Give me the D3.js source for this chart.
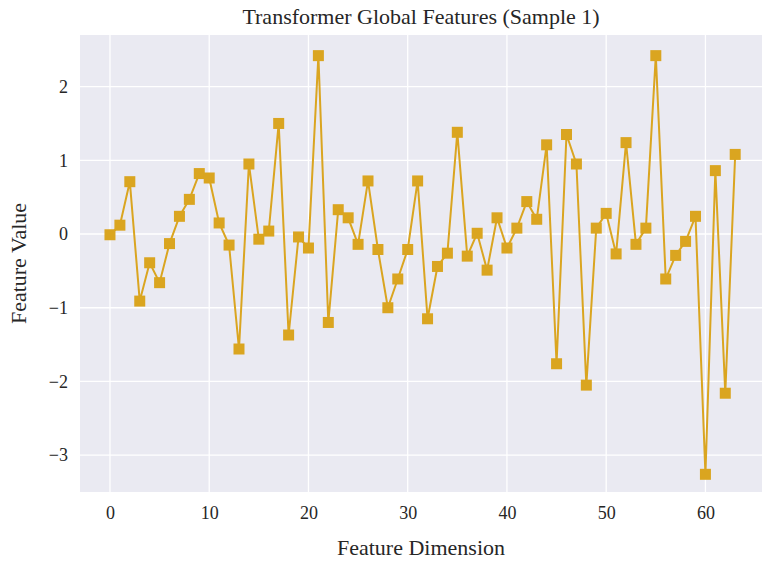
<!DOCTYPE html>
<html>
<head>
<meta charset="utf-8">
<script src="https://cdn.jsdelivr.net/npm/d3@7"></script>
<style>
  body { margin: 0; background: #fff; }
  text { font-family: "Liberation Serif", "Times New Roman", serif; fill: #262626; }
</style>
</head>
<body>
<div id="chart"></div>
<script>
// Feature values, index 0..63
var values = [-0.01, 0.12, 0.71, -0.91, -0.39, -0.66, -0.13, 0.24, 0.47, 0.82,
  0.76, 0.15, -0.15, -1.56, 0.95, -0.07, 0.04, 1.50, -1.37, -0.04,
  -0.19, 2.42, -1.20, 0.33, 0.22, -0.14, 0.72, -0.21, -1.00, -0.61,
  -0.21, 0.72, -1.15, -0.44, -0.26, 1.38, -0.30, 0.01, -0.49, 0.22,
  -0.19, 0.08, 0.44, 0.20, 1.21, -1.76, 1.35, 0.95, -2.05, 0.08,
  0.28, -0.27, 1.24, -0.14, 0.08, 2.42, -0.61, -0.29, -0.10, 0.24,
  -3.26, 0.86, -2.16, 1.08];
var xTicks = [0, 10, 20, 30, 40, 50, 60];
var yTicks = [-3, -2, -1, 0, 1, 2];

var width = 776, height = 565;
var margin = { left: 80, right: 14, top: 35, bottom: 73 };

var svg = d3.select('#chart').append('svg')
    .attr('width', width)
    .attr('height', height);

var x = d3.scaleLinear().domain([-3.02, 65.7]).range([margin.left, width - margin.right]);
var y = d3.scaleLinear().domain([-3.5, 2.7]).range([height - margin.bottom, margin.top]);

// background + grid
svg.append('rect')
  .attr('x', margin.left).attr('y', margin.top)
  .attr('width', width - margin.left - margin.right)
  .attr('height', height - margin.top - margin.bottom)
  .attr('fill', '#eaeaf2');

svg.append('g').selectAll('line').data(xTicks).join('line')
  .attr('x1', x).attr('x2', x)
  .attr('y1', margin.top).attr('y2', height - margin.bottom)
  .attr('stroke', '#fff').attr('stroke-width', 1.3);

svg.append('g').selectAll('line').data(yTicks).join('line')
  .attr('y1', y).attr('y2', y)
  .attr('x1', margin.left).attr('x2', width - margin.right)
  .attr('stroke', '#fff').attr('stroke-width', 1.3);

// axes (tick labels only)
var xAxis = svg.append('g')
  .attr('transform', 'translate(0,' + (height - margin.bottom) + ')')
  .call(d3.axisBottom(x).tickValues(xTicks).tickSize(0).tickPadding(14));
var yAxis = svg.append('g')
  .attr('transform', 'translate(' + margin.left + ',0)')
  .call(d3.axisLeft(y).tickValues(yTicks).tickSize(0).tickPadding(12)
    .tickFormat(function(d) { return d < 0 ? '\u2212' + Math.abs(d) : d; }));
[xAxis, yAxis].forEach(function(a) {
  a.attr('font-family', 'Liberation Serif').attr('font-size', 18);
  a.select('.domain').remove();
  a.selectAll('text').attr('fill', '#262626');
});

// line + markers
var line = d3.line().x(function(d, i) { return x(i); }).y(function(d) { return y(d); });
svg.append('path').datum(values)
  .attr('d', line).attr('fill', 'none')
  .attr('stroke', '#daa520').attr('stroke-width', 2);

var s = 11;
svg.append('g').selectAll('rect').data(values).join('rect')
  .attr('x', function(d, i) { return x(i) - s / 2; })
  .attr('y', function(d) { return y(d) - s / 2; })
  .attr('width', s).attr('height', s)
  .attr('fill', '#daa520');

// labels
svg.append('text').attr('x', (margin.left + width - margin.right) / 2).attr('y', 24)
  .attr('text-anchor', 'middle').style('font-size', '22px')
  .text('Transformer Global Features (Sample 1)');
svg.append('text').attr('x', (margin.left + width - margin.right) / 2).attr('y', 555)
  .attr('text-anchor', 'middle').style('font-size', '22px')
  .text('Feature Dimension');
svg.append('text')
  .attr('transform', 'translate(26,' + ((margin.top + height - margin.bottom) / 2) + ') rotate(-90)')
  .attr('text-anchor', 'middle').style('font-size', '22px')
  .text('Feature Value');
</script>
</body>
</html>
